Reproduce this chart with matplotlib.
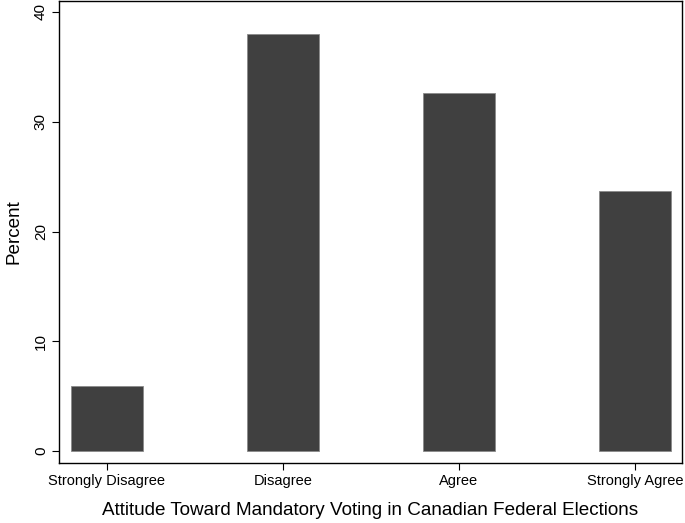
import matplotlib
matplotlib.use("Agg")
import matplotlib.pyplot as plt

categories = ["Strongly Disagree", "Disagree", "Agree", "Strongly Agree"]
percent = [5.9, 38.0, 32.6, 23.7]
yticks = [0, 10, 20, 30, 40]

plt.rcParams['font.family'] = ['Liberation Sans', 'DejaVu Sans']

fig = plt.figure(figsize=(6.85, 5.23), dpi=100)
ax = fig.add_axes([59/685, 1 - 463/523, (682-59)/685, (463-1)/523])

x = list(range(1, len(categories) + 1))
ax.bar(x, percent, width=0.41, color='#404040', edgecolor='#8a8a8a', linewidth=0.6)

ax.set_xlim(1 - 48/176, 4 + 47/176)
ax.set_ylim(-1.09, 41.0)
ax.set_xticks(x)
ax.set_xticklabels(categories, fontsize=10.5)
ax.set_yticks(yticks)
ax.set_yticklabels([str(t) for t in yticks], fontsize=11, rotation=90, va='center')
ax.tick_params(axis='both', direction='out', length=5, width=0.8, color='black')
ax.tick_params(axis='x', pad=3)
ax.tick_params(axis='y', pad=3)
for s in ax.spines.values():
    s.set_linewidth(1.0)
    s.set_color('black')

ax.set_xlabel("Attitude Toward Mandatory Voting in Canadian Federal Elections", fontsize=13.6, labelpad=10)
ax.set_ylabel("Percent", fontsize=13.6, labelpad=8)

fig.savefig("out.png", dpi=100, facecolor='white')
